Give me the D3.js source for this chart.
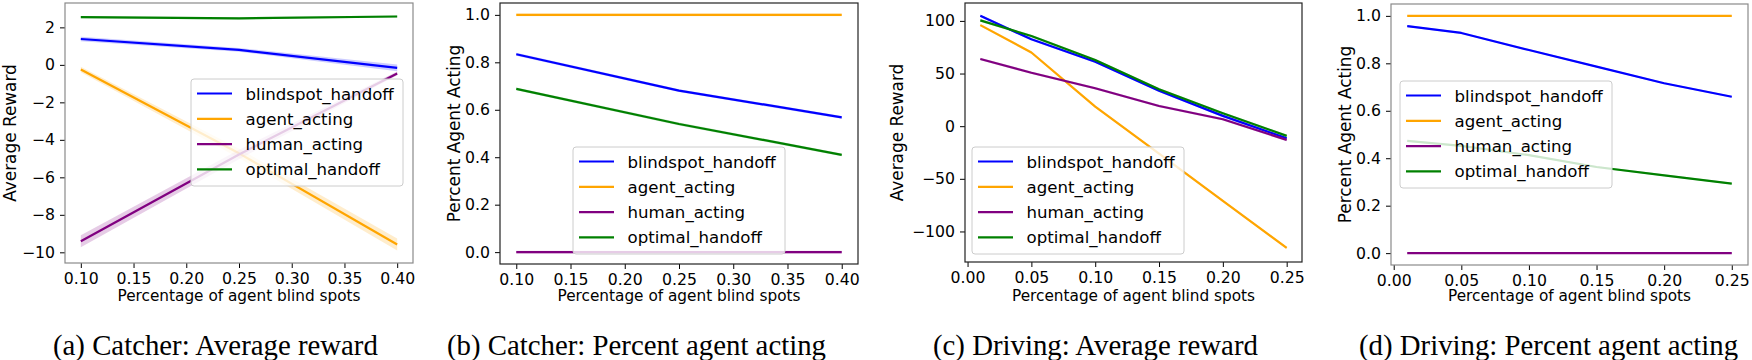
<!DOCTYPE html>
<html>
<head>
<meta charset="utf-8">
<script src="https://cdn.jsdelivr.net/npm/d3@7"></script>
<style>
  body { margin: 0; background: #fff; }
  svg { display: block; }
</style>
</head>
<body>
<div id="chart"></div>
<script>
// Handoff experiments: catcher and driving, average reward and percent agent acting

const seriesNames = ["blindspot_handoff", "agent_acting", "human_acting", "optimal_handoff"];
const seriesColors = ["blue", "orange", "purple", "green"];

// (a) catcher reward
const catcherX = [0.10, 0.25, 0.40];
const catcherRewardBlindspot = [1.38, 0.80, -0.16];
const catcherRewardAgent = [-0.25, -4.72, -9.58];
const catcherRewardHuman = [-9.41, -4.78, -0.46];
const catcherRewardOptimal = [2.55, 2.48, 2.58];
const catcherRewardBlindspotErr = [0.12, 0.10, 0.18];
const catcherRewardAgentErr = [0.15, 0.25, 0.32];
const catcherRewardHumanErr = [0.32, 0.25, 0.10];
const catcherRewardOptimalErr = [0.06, 0.06, 0.05];

// (b) catcher percent agent acting
const catcherPctBlindspot = [0.834, 0.681, 0.568];
const catcherPctAgent = [1.0, 1.0, 1.0];
const catcherPctHuman = [0.0, 0.0, 0.0];
const catcherPctOptimal = [0.688, 0.540, 0.410];
const catcherPctErr = [0.006, 0.006, 0.006];

// (c) driving reward
const drivingX = [0.01, 0.05, 0.10, 0.15, 0.20, 0.25];
const drivingRewardBlindspot = [104.8, 82.5, 61.2, 33.7, 9.8, -11.4];
const drivingRewardAgent = [96.0, 70.0, 18.6, -26.0, -71.0, -115.6];
const drivingRewardHuman = [63.8, 50.8, 36.0, 19.2, 6.6, -13.0];
const drivingRewardOptimal = [100.5, 85.6, 62.8, 35.0, 12.3, -9.2];
const drivingRewardErr = [1.2, 1.2, 1.2, 1.2, 1.2, 1.2];

// (d) driving percent agent acting
const drivingPctBlindspot = [0.957, 0.928, 0.856, 0.786, 0.716, 0.659];
const drivingPctAgent = [1, 1, 1, 1, 1, 1];
const drivingPctHuman = [0, 0, 0, 0, 0, 0];
const drivingPctOptimal = [0.473, 0.452, 0.413, 0.363, 0.328, 0.293];
const drivingPctErr = [0.004, 0.004, 0.004, 0.004, 0.004, 0.004];

// ticks
const catcherXTicks = [0.10, 0.15, 0.20, 0.25, 0.30, 0.35, 0.40];
const drivingXTicks = [0.00, 0.05, 0.10, 0.15, 0.20, 0.25];
const catcherRewardTicks = [2, 0, -2, -4, -6, -8, -10];
const drivingRewardTicks = [100, 50, 0, -50, -100];
const pctTicks = [0.0, 0.2, 0.4, 0.6, 0.8, 1.0];

const xLabel = "Percentage of agent blind spots";

const panels = [
  {
    xs: catcherX,
    means: [catcherRewardBlindspot, catcherRewardAgent, catcherRewardHuman, catcherRewardOptimal],
    errs: [catcherRewardBlindspotErr, catcherRewardAgentErr, catcherRewardHumanErr, catcherRewardOptimalErr],
    xDomain: [0.085, 0.415], yDomain: [-10.57, 3.3],
    xTicks: catcherXTicks, yTicks: catcherRewardTicks, yFmt: d3.format("d"),
    box: { left: 65, right: 413, top: 3, bottom: 263 },
    frame: "#8a8a8a",
    yLabel: "Average Reward", yLabelX: 16,
    legend: { x: 191, y: 79 },
    caption: "(a) Catcher: Average reward", capX: 53
  },
  {
    xs: catcherX,
    means: [catcherPctBlindspot, catcherPctAgent, catcherPctHuman, catcherPctOptimal],
    errs: [catcherPctErr, catcherPctErr, catcherPctErr, catcherPctErr],
    xDomain: [0.085, 0.415], yDomain: [-0.05, 1.05],
    xTicks: catcherXTicks, yTicks: pctTicks, yFmt: d3.format(".1f"),
    box: { left: 500, right: 858, top: 3, bottom: 264 },
    frame: "#222",
    yLabel: "Percent Agent Acting", yLabelX: 460,
    legend: { x: 573, y: 147 },
    caption: "(b) Catcher: Percent agent acting", capX: 447
  },
  {
    xs: drivingX,
    means: [drivingRewardBlindspot, drivingRewardAgent, drivingRewardHuman, drivingRewardOptimal],
    errs: [drivingRewardErr, drivingRewardErr, drivingRewardErr, drivingRewardErr],
    xDomain: [-0.002, 0.262], yDomain: [-129, 117],
    xTicks: drivingXTicks, yTicks: drivingRewardTicks, yFmt: d3.format("d"),
    box: { left: 965, right: 1302, top: 3, bottom: 262 },
    frame: "#222",
    yLabel: "Average Reward", yLabelX: 903,
    legend: { x: 972, y: 147 },
    caption: "(c) Driving: Average reward", capX: 933
  },
  {
    xs: drivingX,
    means: [drivingPctBlindspot, drivingPctAgent, drivingPctHuman, drivingPctOptimal],
    errs: [drivingPctErr, drivingPctErr, drivingPctErr, drivingPctErr],
    xDomain: [-0.002, 0.262], yDomain: [-0.05, 1.05],
    xTicks: drivingXTicks, yTicks: pctTicks, yFmt: d3.format(".1f"),
    box: { left: 1391, right: 1748, top: 4, bottom: 265 },
    frame: "#8a8a8a",
    yLabel: "Percent Agent Acting", yLabelX: 1351,
    legend: { x: 1400, y: 81 },
    caption: "(d) Driving: Percent agent acting", capX: 1359
  }
];

const width = 1752;
const height = 360;
const tickFont = "15.7px";
const xLabelFont = "15.3px";
const yLabelFont = "16.9px";
const legendFont = "16.6px";

const svg = d3.select("#chart").append("svg")
  .attr("width", width)
  .attr("height", height)
  .style("font-family", "'DejaVu Sans', sans-serif");

svg.append("rect").attr("width", width).attr("height", height).attr("fill", "#fff");

function drawPanel(p) {
  const b = p.box;
  const g = svg.append("g");
  const x = d3.scaleLinear().domain(p.xDomain).range([b.left, b.right]);
  const y = d3.scaleLinear().domain(p.yDomain).range([b.bottom, b.top]);

  // bands + lines
  p.means.forEach((m, i) => {
    const pts = p.xs.map((xv, j) => ({ x: xv, y: m[j], e: p.errs[i][j] }));
    g.append("path")
      .datum(pts)
      .attr("fill", seriesColors[i])
      .attr("fill-opacity", 0.2)
      .attr("d", d3.area().x(d => x(d.x)).y0(d => y(d.y - d.e)).y1(d => y(d.y + d.e)));
    g.append("path")
      .datum(pts)
      .attr("fill", "none")
      .attr("stroke", seriesColors[i])
      .attr("stroke-width", 2.2)
      .attr("stroke-linejoin", "round")
      .attr("d", d3.line().x(d => x(d.x)).y(d => y(d.y)));
  });

  // axes
  const xAxis = g.append("g")
    .attr("transform", `translate(0,${b.bottom})`)
    .call(d3.axisBottom(x).tickValues(p.xTicks).tickFormat(d3.format(".2f")).tickSizeOuter(0).tickSize(5).tickPadding(5));
  const yAxis = g.append("g")
    .attr("transform", `translate(${b.left},0)`)
    .call(d3.axisLeft(y).tickValues(p.yTicks).tickFormat(p.yFmt).tickSizeOuter(0).tickSize(5).tickPadding(5));
  [xAxis, yAxis].forEach(a => {
    a.select(".domain").remove();
    a.selectAll("text").style("font-size", tickFont).style("font-family", "'DejaVu Sans', sans-serif").attr("fill", "#000");
    a.selectAll("line").attr("stroke", "#000");
  });

  // frame
  g.append("rect")
    .attr("x", b.left).attr("y", b.top)
    .attr("width", b.right - b.left).attr("height", b.bottom - b.top)
    .attr("fill", "none").attr("stroke", p.frame).attr("stroke-width", 1.2);

  // axis labels
  g.append("text")
    .attr("x", (b.left + b.right) / 2).attr("y", 301)
    .attr("text-anchor", "middle").style("font-size", xLabelFont)
    .text(xLabel);
  g.append("text")
    .attr("transform", `translate(${p.yLabelX},${(b.top + b.bottom) / 2}) rotate(-90)`)
    .attr("text-anchor", "middle").style("font-size", yLabelFont)
    .text(p.yLabel);

  // legend
  const lg = g.append("g").attr("transform", `translate(${p.legend.x},${p.legend.y})`);
  lg.append("rect")
    .attr("width", 212).attr("height", 107).attr("rx", 3)
    .attr("fill", "#fff").attr("fill-opacity", 0.8)
    .attr("stroke", "#cccccc").attr("stroke-width", 1);
  seriesNames.forEach((name, i) => {
    const cy = 14.5 + i * 25.3;
    lg.append("line")
      .attr("x1", 6).attr("x2", 41).attr("y1", cy).attr("y2", cy)
      .attr("stroke", seriesColors[i]).attr("stroke-width", 2.2);
    lg.append("text")
      .attr("x", 54.5).attr("y", cy + 6)
      .style("font-size", legendFont)
      .text(name);
  });

  // caption
  g.append("text")
    .attr("x", p.capX).attr("y", 355)
    .style("font-family", "'Liberation Serif', 'Times New Roman', serif")
    .style("font-size", "28.8px")
    .text(p.caption);
}

panels.forEach(drawPanel);
</script>
</body>
</html>
